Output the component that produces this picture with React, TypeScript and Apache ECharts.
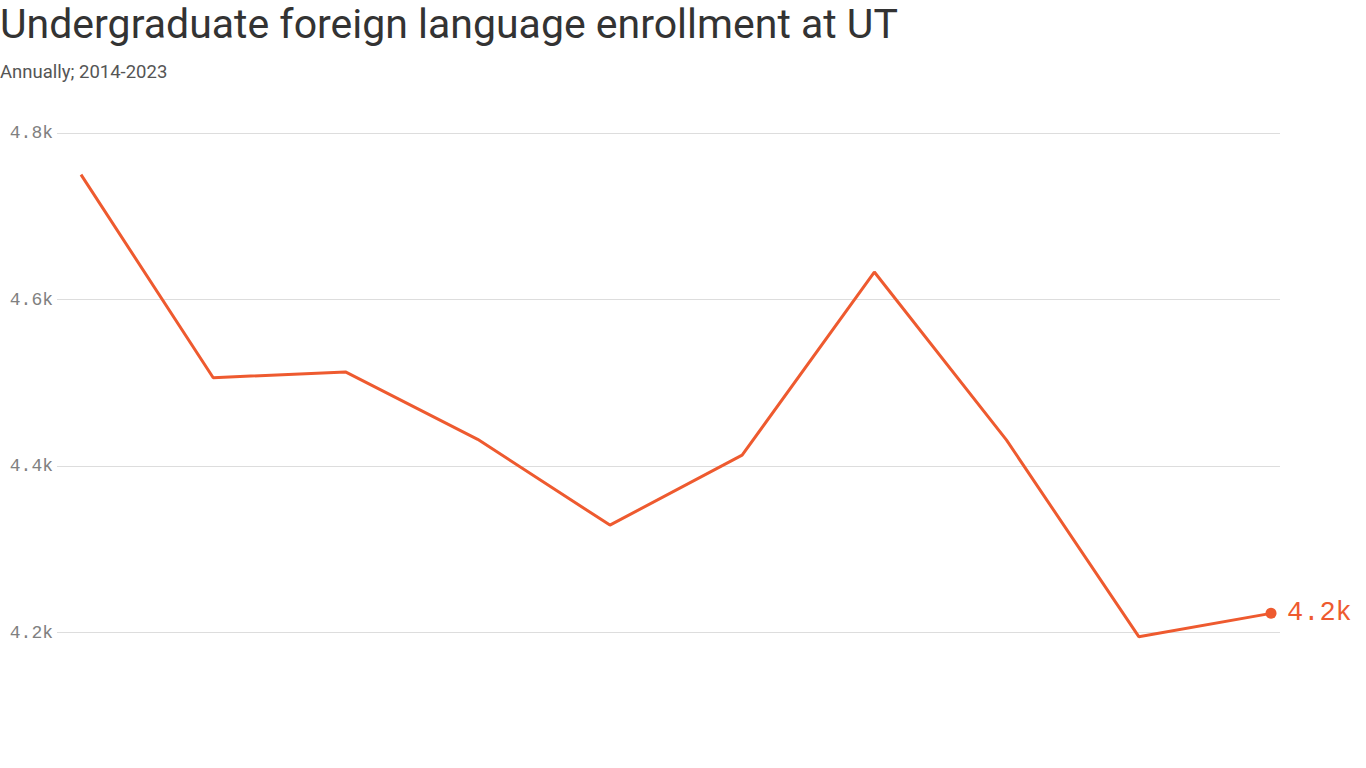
import React, { useEffect, useRef } from "react";
import * as echarts from "echarts";

const years = [2014, 2015, 2016, 2017, 2018, 2019, 2020, 2021, 2022, 2023];
const enrollment = [4750, 4506, 4513, 4432, 4329, 4413, 4633, 4431, 4195, 4223];
const yTicks = [4200, 4400, 4600, 4800];

const titleText = "Undergraduate foreign language enrollment at UT";
const subtitleText = "Annually; 2014-2023";
const lineColor = "#EE5A2F";

const fmtK = (v: number) => (v / 1000).toFixed(1) + "k";

export default function App() {
  const ref = useRef<HTMLDivElement>(null);
  useEffect(() => {
    document.body.style.margin = "0";
    const chart = echarts.init(ref.current!, null, { renderer: "svg" });
    const last = years.length - 1;
    chart.setOption({
      animation: false,
      backgroundColor: "#ffffff",
      title: [
        {
          text: titleText,
          left: 0,
          top: 3,
          padding: 0,
          textStyle: {
            fontFamily: "Roboto",
            fontSize: 41,
            fontWeight: 400,
            color: "#333333",
          },
        },
        {
          text: subtitleText,
          left: 0,
          top: 62,
          padding: 0,
          textStyle: {
            fontFamily: "Roboto",
            fontSize: 18.5,
            fontWeight: 400,
            color: "#555555",
          },
        },
      ],
      grid: { left: 57, right: 86, top: 133, bottom: 135.5 },
      xAxis: {
        type: "value",
        min: 2013.8185,
        max: 2023.068,
        show: false,
      },
      yAxis: {
        type: "value",
        min: yTicks[0],
        max: yTicks[yTicks.length - 1],
        interval: 200,
        axisLine: { show: false },
        axisTick: { show: false },
        splitLine: { lineStyle: { color: "#dddddd", width: 1 } },
        axisLabel: {
          margin: 4,
          formatter: (v: number) => fmtK(v),
          fontFamily: "Liberation Mono",
          fontSize: 18,
          color: "#808080",
        },
      },
      series: [
        {
          type: "line",
          clip: false,
          data: years.map((y, i) => [y, enrollment[i]]),
          showSymbol: true,
          symbol: "circle",
          symbolSize: (_v: any, p: any) => (p.dataIndex === last ? 11 : 0),
          lineStyle: { color: lineColor, width: 3 },
          itemStyle: { color: lineColor },
          endLabel: {
            show: true,
            formatter: (p: any) => fmtK(p.value[1]),
            fontFamily: "Liberation Mono",
            fontSize: 27,
            color: lineColor,
            distance: 16,
          },
        },
      ],
    });
    return () => chart.dispose();
  }, []);
  return <div ref={ref} style={{ width: 1366, height: 768 }} />;
}
